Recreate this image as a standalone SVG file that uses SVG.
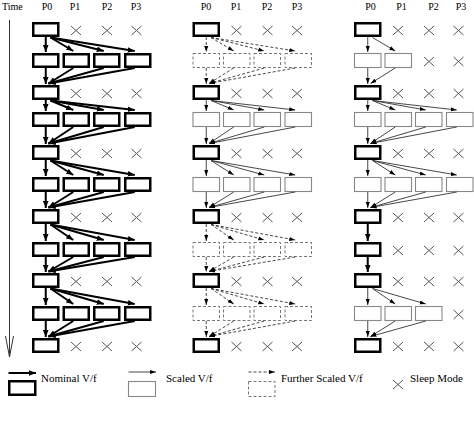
<svg xmlns="http://www.w3.org/2000/svg" xmlns:xlink="http://www.w3.org/1999/xlink" width="474" height="423" viewBox="0 0 474 423">
<style>
.nom{fill:#fff;stroke:#000;stroke-width:2.5}
.sc{fill:#fff;stroke:#888;stroke-width:1.1}
.fs{fill:none;stroke:#777;stroke-width:1;stroke-dasharray:3 2}
.slp{fill:none;stroke:#555;stroke-width:1}
.th{fill:none;stroke:#000;stroke-width:2;marker-end:url(#hb)}
.tn{fill:none;stroke:#333;stroke-width:0.9;marker-end:url(#hs)}
.td{fill:none;stroke:#333;stroke-width:0.9;stroke-dasharray:3 2;marker-end:url(#hs)}
.t{font-family:"Liberation Serif","Times New Roman",serif;font-size:10px;fill:#000}
.h{text-anchor:middle}
.lg{font-family:"Liberation Serif","Times New Roman",serif;font-size:11px;fill:#000}
.ax{fill:none;stroke:#333;stroke-width:1}
</style>
<defs>
<marker id="hb" markerUnits="userSpaceOnUse" markerWidth="8" markerHeight="6" refX="7" refY="3" orient="auto"><path d="M0,0.2L7,3L0,5.8z" fill="#000"/></marker>
<marker id="hs" markerUnits="userSpaceOnUse" markerWidth="7" markerHeight="5" refX="6" refY="2.5" orient="auto"><path d="M0,0.5L6,2.5L0,4.5z" fill="#000"/></marker>
<rect id="bn" x="1.25" y="1.25" width="25" height="12.5" class="nom"/>
<rect id="bs" x="0.5" y="0.5" width="26.5" height="14" class="sc"/>
<rect id="bf" x="0.5" y="0.5" width="26.5" height="14" class="fs"/>
<path id="sx" d="M-5,-4.5L5,4.5M-5,4.5L5,-4.5" class="slp"/>
</defs>
<rect width="474" height="423" fill="#fff"/>

<g id="header">
<text class="t" x="2" y="10">Time</text>
<text class="t h" x="47" y="10">P0</text><text class="t h" x="75" y="10">P1</text><text class="t h" x="107" y="10">P2</text><text class="t h" x="136" y="10">P3</text>
<text class="t h" x="206" y="10">P0</text><text class="t h" x="236" y="10">P1</text><text class="t h" x="267" y="10">P2</text><text class="t h" x="297" y="10">P3</text>
<text class="t h" x="370.5" y="10">P0</text><text class="t h" x="401.5" y="10">P1</text><text class="t h" x="433.5" y="10">P2</text><text class="t h" x="461" y="10">P3</text>
</g>

<g id="time-axis">
<path class="ax" d="M9.5,20V357"/>
<path class="ax" d="M5.5,336L9.5,357L13.5,336"/>
</g>

<g id="left-panel">
<g id="l-r0-p0" transform="translate(32,22)"><use href="#bn"/></g>
<g id="l-r0-p1" transform="translate(76,30.5)"><use href="#sx"/></g>
<g id="l-r0-p2" transform="translate(107,30.5)"><use href="#sx"/></g>
<g id="l-r0-p3" transform="translate(136.5,30.5)"><use href="#sx"/></g>
<g id="l-r1-p0" transform="translate(32,53)"><use href="#bn"/></g>
<g id="l-r1-p1" transform="translate(62.5,53)"><use href="#bn"/></g>
<g id="l-r1-p2" transform="translate(93,53)"><use href="#bn"/></g>
<g id="l-r1-p3" transform="translate(124,53)"><use href="#bn"/></g>
<g id="l-r2-p0" transform="translate(32,85)"><use href="#bn"/></g>
<g id="l-r2-p1" transform="translate(76,93.5)"><use href="#sx"/></g>
<g id="l-r2-p2" transform="translate(107,93.5)"><use href="#sx"/></g>
<g id="l-r2-p3" transform="translate(136.5,93.5)"><use href="#sx"/></g>
<g id="l-r3-p0" transform="translate(32,112)"><use href="#bn"/></g>
<g id="l-r3-p1" transform="translate(62.5,112)"><use href="#bn"/></g>
<g id="l-r3-p2" transform="translate(93,112)"><use href="#bn"/></g>
<g id="l-r3-p3" transform="translate(124,112)"><use href="#bn"/></g>
<g id="l-r4-p0" transform="translate(32,145)"><use href="#bn"/></g>
<g id="l-r4-p1" transform="translate(76,153.5)"><use href="#sx"/></g>
<g id="l-r4-p2" transform="translate(107,153.5)"><use href="#sx"/></g>
<g id="l-r4-p3" transform="translate(136.5,153.5)"><use href="#sx"/></g>
<g id="l-r5-p0" transform="translate(32,177)"><use href="#bn"/></g>
<g id="l-r5-p1" transform="translate(62.5,177)"><use href="#bn"/></g>
<g id="l-r5-p2" transform="translate(93,177)"><use href="#bn"/></g>
<g id="l-r5-p3" transform="translate(124,177)"><use href="#bn"/></g>
<g id="l-r6-p0" transform="translate(32,209)"><use href="#bn"/></g>
<g id="l-r6-p1" transform="translate(76,217.5)"><use href="#sx"/></g>
<g id="l-r6-p2" transform="translate(107,217.5)"><use href="#sx"/></g>
<g id="l-r6-p3" transform="translate(136.5,217.5)"><use href="#sx"/></g>
<g id="l-r7-p0" transform="translate(32,242)"><use href="#bn"/></g>
<g id="l-r7-p1" transform="translate(62.5,242)"><use href="#bn"/></g>
<g id="l-r7-p2" transform="translate(93,242)"><use href="#bn"/></g>
<g id="l-r7-p3" transform="translate(124,242)"><use href="#bn"/></g>
<g id="l-r8-p0" transform="translate(32,273)"><use href="#bn"/></g>
<g id="l-r8-p1" transform="translate(76,281.5)"><use href="#sx"/></g>
<g id="l-r8-p2" transform="translate(107,281.5)"><use href="#sx"/></g>
<g id="l-r8-p3" transform="translate(136.5,281.5)"><use href="#sx"/></g>
<g id="l-r9-p0" transform="translate(32,306)"><use href="#bn"/></g>
<g id="l-r9-p1" transform="translate(62.5,306)"><use href="#bn"/></g>
<g id="l-r9-p2" transform="translate(93,306)"><use href="#bn"/></g>
<g id="l-r9-p3" transform="translate(124,306)"><use href="#bn"/></g>
<g id="l-r10-p0" transform="translate(32,338)"><use href="#bn"/></g>
<g id="l-r10-p1" transform="translate(76,346.5)"><use href="#sx"/></g>
<g id="l-r10-p2" transform="translate(107,346.5)"><use href="#sx"/></g>
<g id="l-r10-p3" transform="translate(136.5,346.5)"><use href="#sx"/></g>
</g>

<g id="middle-panel">
<g id="m-r0-p0" transform="translate(192.5,22)"><use href="#bn"/></g>
<g id="m-r0-p1" transform="translate(236.5,30.5)"><use href="#sx"/></g>
<g id="m-r0-p2" transform="translate(267.5,30.5)"><use href="#sx"/></g>
<g id="m-r0-p3" transform="translate(297,30.5)"><use href="#sx"/></g>
<g id="m-r1-p0" transform="translate(192.5,53)"><use href="#bf"/></g>
<g id="m-r1-p1" transform="translate(223,53)"><use href="#bf"/></g>
<g id="m-r1-p2" transform="translate(253.5,53)"><use href="#bf"/></g>
<g id="m-r1-p3" transform="translate(284.5,53)"><use href="#bf"/></g>
<g id="m-r2-p0" transform="translate(192.5,85)"><use href="#bn"/></g>
<g id="m-r2-p1" transform="translate(236.5,93.5)"><use href="#sx"/></g>
<g id="m-r2-p2" transform="translate(267.5,93.5)"><use href="#sx"/></g>
<g id="m-r2-p3" transform="translate(297,93.5)"><use href="#sx"/></g>
<g id="m-r3-p0" transform="translate(192.5,112)"><use href="#bs"/></g>
<g id="m-r3-p1" transform="translate(223,112)"><use href="#bs"/></g>
<g id="m-r3-p2" transform="translate(253.5,112)"><use href="#bs"/></g>
<g id="m-r3-p3" transform="translate(284.5,112)"><use href="#bs"/></g>
<g id="m-r4-p0" transform="translate(192.5,145)"><use href="#bn"/></g>
<g id="m-r4-p1" transform="translate(236.5,153.5)"><use href="#sx"/></g>
<g id="m-r4-p2" transform="translate(267.5,153.5)"><use href="#sx"/></g>
<g id="m-r4-p3" transform="translate(297,153.5)"><use href="#sx"/></g>
<g id="m-r5-p0" transform="translate(192.5,177)"><use href="#bs"/></g>
<g id="m-r5-p1" transform="translate(223,177)"><use href="#bs"/></g>
<g id="m-r5-p2" transform="translate(253.5,177)"><use href="#bs"/></g>
<g id="m-r5-p3" transform="translate(284.5,177)"><use href="#bs"/></g>
<g id="m-r6-p0" transform="translate(192.5,209)"><use href="#bn"/></g>
<g id="m-r6-p1" transform="translate(236.5,217.5)"><use href="#sx"/></g>
<g id="m-r6-p2" transform="translate(267.5,217.5)"><use href="#sx"/></g>
<g id="m-r6-p3" transform="translate(297,217.5)"><use href="#sx"/></g>
<g id="m-r7-p0" transform="translate(192.5,242)"><use href="#bf"/></g>
<g id="m-r7-p1" transform="translate(223,242)"><use href="#bf"/></g>
<g id="m-r7-p2" transform="translate(253.5,242)"><use href="#bf"/></g>
<g id="m-r7-p3" transform="translate(284.5,242)"><use href="#bf"/></g>
<g id="m-r8-p0" transform="translate(192.5,273)"><use href="#bn"/></g>
<g id="m-r8-p1" transform="translate(236.5,281.5)"><use href="#sx"/></g>
<g id="m-r8-p2" transform="translate(267.5,281.5)"><use href="#sx"/></g>
<g id="m-r8-p3" transform="translate(297,281.5)"><use href="#sx"/></g>
<g id="m-r9-p0" transform="translate(192.5,306)"><use href="#bf"/></g>
<g id="m-r9-p1" transform="translate(223,306)"><use href="#bf"/></g>
<g id="m-r9-p2" transform="translate(253.5,306)"><use href="#bf"/></g>
<g id="m-r9-p3" transform="translate(284.5,306)"><use href="#bf"/></g>
<g id="m-r10-p0" transform="translate(192.5,338)"><use href="#bn"/></g>
<g id="m-r10-p1" transform="translate(236.5,346.5)"><use href="#sx"/></g>
<g id="m-r10-p2" transform="translate(267.5,346.5)"><use href="#sx"/></g>
<g id="m-r10-p3" transform="translate(297,346.5)"><use href="#sx"/></g>
</g>

<g id="right-panel">
<g id="r-r0-p0" transform="translate(354,22)"><use href="#bn"/></g>
<g id="r-r0-p1" transform="translate(398,30.5)"><use href="#sx"/></g>
<g id="r-r0-p2" transform="translate(429,30.5)"><use href="#sx"/></g>
<g id="r-r0-p3" transform="translate(458.5,30.5)"><use href="#sx"/></g>
<g id="r-r1-p0" transform="translate(354,53)"><use href="#bs"/></g>
<g id="r-r1-p1" transform="translate(384.5,53)"><use href="#bs"/></g>
<g id="r-r1-p2" transform="translate(429,61.5)"><use href="#sx"/></g>
<g id="r-r1-p3" transform="translate(458.5,61.5)"><use href="#sx"/></g>
<g id="r-r2-p0" transform="translate(354,85)"><use href="#bn"/></g>
<g id="r-r2-p1" transform="translate(398,93.5)"><use href="#sx"/></g>
<g id="r-r2-p2" transform="translate(429,93.5)"><use href="#sx"/></g>
<g id="r-r2-p3" transform="translate(458.5,93.5)"><use href="#sx"/></g>
<g id="r-r3-p0" transform="translate(354,112)"><use href="#bs"/></g>
<g id="r-r3-p1" transform="translate(384.5,112)"><use href="#bs"/></g>
<g id="r-r3-p2" transform="translate(415,112)"><use href="#bs"/></g>
<g id="r-r3-p3" transform="translate(446,112)"><use href="#bs"/></g>
<g id="r-r4-p0" transform="translate(354,145)"><use href="#bn"/></g>
<g id="r-r4-p1" transform="translate(398,153.5)"><use href="#sx"/></g>
<g id="r-r4-p2" transform="translate(429,153.5)"><use href="#sx"/></g>
<g id="r-r4-p3" transform="translate(458.5,153.5)"><use href="#sx"/></g>
<g id="r-r5-p0" transform="translate(354,177)"><use href="#bs"/></g>
<g id="r-r5-p1" transform="translate(384.5,177)"><use href="#bs"/></g>
<g id="r-r5-p2" transform="translate(415,177)"><use href="#bs"/></g>
<g id="r-r5-p3" transform="translate(446,177)"><use href="#bs"/></g>
<g id="r-r6-p0" transform="translate(354,209)"><use href="#bn"/></g>
<g id="r-r6-p1" transform="translate(398,217.5)"><use href="#sx"/></g>
<g id="r-r6-p2" transform="translate(429,217.5)"><use href="#sx"/></g>
<g id="r-r6-p3" transform="translate(458.5,217.5)"><use href="#sx"/></g>
<g id="r-r7-p0" transform="translate(354,242)"><use href="#bn"/></g>
<g id="r-r7-p1" transform="translate(398,250.5)"><use href="#sx"/></g>
<g id="r-r7-p2" transform="translate(429,250.5)"><use href="#sx"/></g>
<g id="r-r7-p3" transform="translate(458.5,250.5)"><use href="#sx"/></g>
<g id="r-r8-p0" transform="translate(354,273)"><use href="#bn"/></g>
<g id="r-r8-p1" transform="translate(398,281.5)"><use href="#sx"/></g>
<g id="r-r8-p2" transform="translate(429,281.5)"><use href="#sx"/></g>
<g id="r-r8-p3" transform="translate(458.5,281.5)"><use href="#sx"/></g>
<g id="r-r9-p0" transform="translate(354,306)"><use href="#bs"/></g>
<g id="r-r9-p1" transform="translate(384.5,306)"><use href="#bs"/></g>
<g id="r-r9-p2" transform="translate(415,306)"><use href="#bs"/></g>
<g id="r-r9-p3" transform="translate(458.5,314.5)"><use href="#sx"/></g>
<g id="r-r10-p0" transform="translate(354,338)"><use href="#bn"/></g>
<g id="r-r10-p1" transform="translate(398,346.5)"><use href="#sx"/></g>
<g id="r-r10-p2" transform="translate(429,346.5)"><use href="#sx"/></g>
<g id="r-r10-p3" transform="translate(458.5,346.5)"><use href="#sx"/></g>
</g>

<g id="connectors">
<g id="c-left">
<path class="th" d="M45.75,37V52"/><path class="th" d="M50.5,37.5L73.25,51"/><path class="th" d="M50.5,37.5L103.75,51"/><path class="th" d="M50.5,37.5L134.75,51"/>
<path class="th" d="M45.75,68V84"/><path class="th" d="M73.25,68L48.5,83.5"/><path class="th" d="M103.75,68L48.5,83.5"/><path class="th" d="M134.75,68L48.5,83.5"/>
<path class="th" d="M45.75,100V111"/><path class="th" d="M50.5,100.5L73.25,110"/><path class="th" d="M50.5,100.5L103.75,110"/><path class="th" d="M50.5,100.5L134.75,110"/>
<path class="th" d="M45.75,127V144"/><path class="th" d="M73.25,127L48.5,143.5"/><path class="th" d="M103.75,127L48.5,143.5"/><path class="th" d="M134.75,127L48.5,143.5"/>
<path class="th" d="M45.75,160V176"/><path class="th" d="M50.5,160.5L73.25,175"/><path class="th" d="M50.5,160.5L103.75,175"/><path class="th" d="M50.5,160.5L134.75,175"/>
<path class="th" d="M45.75,192V208"/><path class="th" d="M73.25,192L48.5,207.5"/><path class="th" d="M103.75,192L48.5,207.5"/><path class="th" d="M134.75,192L48.5,207.5"/>
<path class="th" d="M45.75,224V241"/><path class="th" d="M50.5,224.5L73.25,240"/><path class="th" d="M50.5,224.5L103.75,240"/><path class="th" d="M50.5,224.5L134.75,240"/>
<path class="th" d="M45.75,257V272"/><path class="th" d="M73.25,257L48.5,271.5"/><path class="th" d="M103.75,257L48.5,271.5"/><path class="th" d="M134.75,257L48.5,271.5"/>
<path class="th" d="M45.75,288V305"/><path class="th" d="M50.5,288.5L73.25,304"/><path class="th" d="M50.5,288.5L103.75,304"/><path class="th" d="M50.5,288.5L134.75,304"/>
<path class="th" d="M45.75,321V337"/><path class="th" d="M73.25,321L48.5,336.5"/><path class="th" d="M103.75,321L48.5,336.5"/><path class="th" d="M134.75,321L48.5,336.5"/>
</g>
<g id="c-middle">
<path class="td" d="M206.25,37V52"/><path class="td" d="M211,37.5L233.75,51"/><path class="td" d="M211,37.5L264.25,51"/><path class="td" d="M211,37.5L295.25,51"/>
<path class="td" d="M206.25,68V84"/><path class="td" d="M233.75,68L209,83.5"/><path class="td" d="M264.25,68L209,83.5"/><path class="td" d="M295.25,68L209,83.5"/>
<path class="tn" d="M206.25,100V111"/><path class="tn" d="M211,100.5L233.75,110"/><path class="tn" d="M211,100.5L264.25,110"/><path class="tn" d="M211,100.5L295.25,110"/>
<path class="tn" d="M206.25,127V144"/><path class="tn" d="M233.75,127L209,143.5"/><path class="tn" d="M264.25,127L209,143.5"/><path class="tn" d="M295.25,127L209,143.5"/>
<path class="tn" d="M206.25,160V176"/><path class="tn" d="M211,160.5L233.75,175"/><path class="tn" d="M211,160.5L264.25,175"/><path class="tn" d="M211,160.5L295.25,175"/>
<path class="tn" d="M206.25,192V208"/><path class="tn" d="M233.75,192L209,207.5"/><path class="tn" d="M264.25,192L209,207.5"/><path class="tn" d="M295.25,192L209,207.5"/>
<path class="td" d="M206.25,224V241"/><path class="td" d="M211,224.5L233.75,240"/><path class="td" d="M211,224.5L264.25,240"/><path class="td" d="M211,224.5L295.25,240"/>
<path class="td" d="M206.25,257V272"/><path class="td" d="M233.75,257L209,271.5"/><path class="td" d="M264.25,257L209,271.5"/><path class="td" d="M295.25,257L209,271.5"/>
<path class="td" d="M206.25,288V305"/><path class="td" d="M211,288.5L233.75,304"/><path class="td" d="M211,288.5L264.25,304"/><path class="td" d="M211,288.5L295.25,304"/>
<path class="td" d="M206.25,321V337"/><path class="td" d="M233.75,321L209,336.5"/><path class="td" d="M264.25,321L209,336.5"/><path class="td" d="M295.25,321L209,336.5"/>
</g>
<g id="c-right">
<path class="tn" d="M367.75,37V52"/><path class="tn" d="M372.5,37.5L395.25,51"/>
<path class="tn" d="M367.75,68V84"/><path class="tn" d="M395.25,68L370.5,83.5"/>
<path class="tn" d="M367.75,100V111"/><path class="tn" d="M372.5,100.5L395.25,110"/><path class="tn" d="M372.5,100.5L425.75,110"/><path class="tn" d="M372.5,100.5L456.75,110"/>
<path class="tn" d="M367.75,127V144"/><path class="tn" d="M395.25,127L370.5,143.5"/><path class="tn" d="M425.75,127L370.5,143.5"/><path class="tn" d="M456.75,127L370.5,143.5"/>
<path class="tn" d="M367.75,160V176"/><path class="tn" d="M372.5,160.5L395.25,175"/><path class="tn" d="M372.5,160.5L425.75,175"/><path class="tn" d="M372.5,160.5L456.75,175"/>
<path class="tn" d="M367.75,192V208"/><path class="tn" d="M395.25,192L370.5,207.5"/><path class="tn" d="M425.75,192L370.5,207.5"/><path class="tn" d="M456.75,192L370.5,207.5"/>
<path class="th" d="M367.75,224V241"/>
<path class="th" d="M367.75,257V272"/>
<path class="tn" d="M367.75,288V305"/><path class="tn" d="M372.5,288.5L395.25,304"/><path class="tn" d="M372.5,288.5L425.75,304"/>
<path class="tn" d="M367.75,321V337"/><path class="tn" d="M395.25,321L370.5,336.5"/><path class="tn" d="M425.75,321L370.5,336.5"/>
</g>
</g>

<g id="legend">
<g id="legend-nominal">
<path class="th" d="M8.5,373L36,373"/>
<rect class="nom" x="9.25" y="381.25" width="26" height="13.5"/>
<text class="lg" x="41" y="382">Nominal V/f</text>
</g>
<g id="legend-scaled">
<path class="tn" d="M128.5,372L156,372"/>
<rect class="sc" x="128.5" y="381.5" width="27" height="15"/>
<text class="lg" x="166" y="382">Scaled V/f</text>
</g>
<g id="legend-further">
<path class="td" d="M248.5,372L275,372"/>
<rect class="fs" x="248.5" y="381.5" width="26.5" height="15"/>
<text class="lg" x="281" y="382">Further Scaled V/f</text>
</g>
<g id="legend-sleep">
<path class="slp" d="M393,380L403,389M393,389L403,380"/>
<text class="lg" x="410" y="382">Sleep Mode</text>
</g>
</g>
</svg>
